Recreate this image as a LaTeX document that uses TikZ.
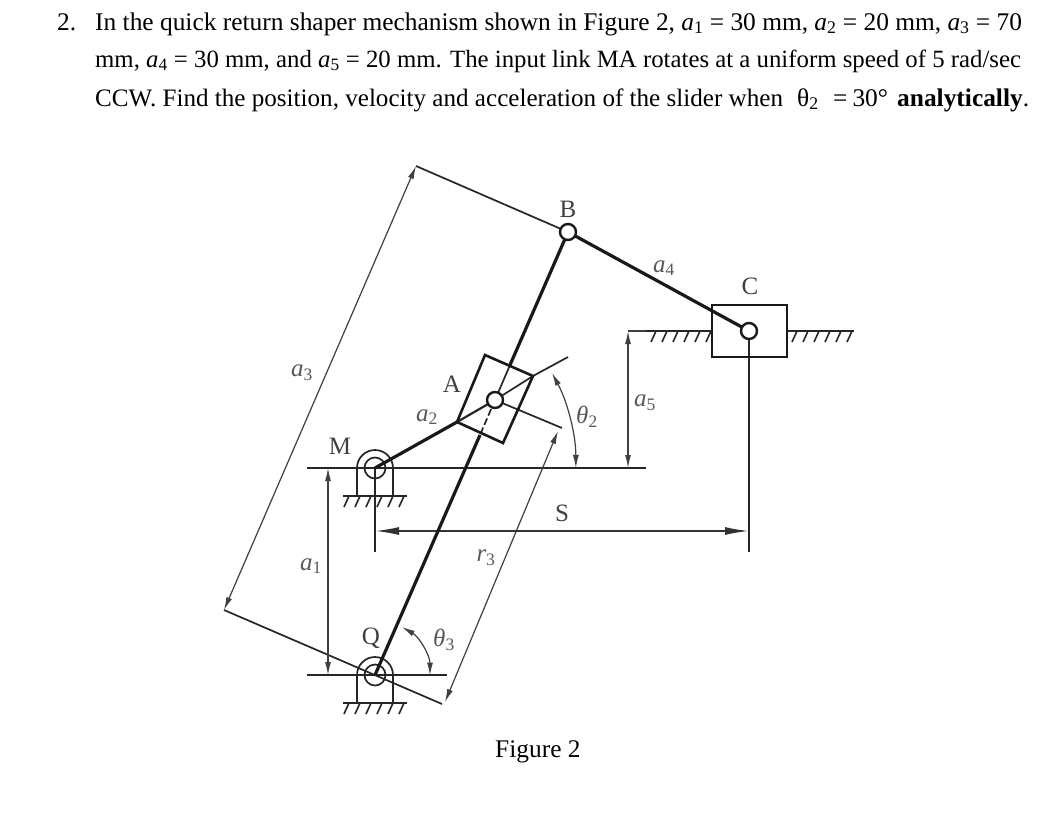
\documentclass[tikz,border=0pt]{standalone}
\usepackage{fontspec}
\setmainfont{Liberation Serif}
\usetikzlibrary{arrows.meta,calc}
\tikzset{
  thinl/.style={line width=1.2pt,draw=black!75},
  medl/.style={line width=1.7pt,draw=black!85},
  linkl/.style={line width=3.2pt,draw=black!90},
  boxl/.style={line width=2.6pt,draw=black!90},
  hatchl/.style={line width=1.6pt,draw=black!85},
  dima/.style={line width=1.2pt,draw=black!75,{Latex[length=13pt,width=6pt]}-{Latex[length=13pt,width=6pt]}},
  joint/.style={circle,draw=black!90,line width=2.4pt,fill=white,minimum size=16pt,inner sep=0pt},
  para/.style={anchor=base west,inner sep=0pt,font=\fontsize{25.4}{28}\selectfont},
  lab/.style={inner sep=0pt,font=\fontsize{25}{28}\selectfont,text=black!75},
  ilab/.style={inner sep=0pt,font=\fontsize{25}{28}\selectfont\itshape,text=black!65}
}
\newcommand{\isub}[1]{\textsubscript{\upshape #1}}
\newcommand{\pivot}[1]{%
  \draw[medl] ($(#1)+(-18,28)$) -- ($(#1)+(-18,0)$) arc[start angle=180,end angle=360,radius=18] -- ($(#1)+(18,28)$);
  \draw[medl] (#1) circle[radius=10.5];
  \draw[hatchl] ($(#1)+(-32,28)$) -- ($(#1)+(32,28)$);
  \foreach \hx in {-26,-15,...,30}{\draw[hatchl] ($(#1)+(\hx,28)$) -- ++(-5,11);}
}
\begin{document}
\begin{tikzpicture}[x=1pt,y=-1pt]
\useasboundingbox (0,0) rectangle (1048,814);
\fill[white] (0,0) rectangle (1048,814);
\node[para] (n) at (57,30) {2.};
\node[para] (l1) at (95,30) {In the quick return shaper mechanism shown in Figure 2, \textit{a}\textsubscript{1} = 30 mm, \textit{a}\textsubscript{2} = 20 mm, \textit{a}\textsubscript{3} = 70};
\node[para,font=\fontsize{24.8}{28}\selectfont] (l2) at (95,67) {mm, \textit{a}\textsubscript{4} = 30 mm, and \textit{a}\textsubscript{5} = 20 mm. The input link MA rotates at a uniform speed of 5 rad/sec};
\node[para,font=\fontsize{25.1}{28}\selectfont] (l3a) at (95,106) {CCW. Find the position, velocity and acceleration of the slider when};
\node[para] (l3b) at (797,106) {θ\textsubscript{2}};
\node[para] (l3c) at (833,106) {=\kern5pt 30°};
\node[para] (l3d) at (897,106) {\textbf{analytically}.};
\node[para] (fig) at (495,757) {Figure 2};
\coordinate (Q) at (375,675);
\coordinate (M) at (375,468);
\coordinate (B) at (568,232);
\coordinate (C) at (749,331);
\coordinate (A) at (495,400);
\coordinate (s1) at (485,355);
\coordinate (s2) at (533,376);
\coordinate (s3) at (503,443);
\coordinate (s4) at (457,422);
\coordinate (qbt) at (510,365);
\coordinate (qbb) at (480,435);
\coordinate (ma) at (568,357);
\coordinate (Ml) at (307,468);
\coordinate (Mr) at (646,468);
\coordinate (Ql) at (307,675);
\coordinate (Qr) at (447,675);
\coordinate (a3t) at (416,166);
\coordinate (a3b) at (224,610);
\coordinate (r3t) at (562,428);
\coordinate (r3b) at (442,704);
\coordinate (r3a) at (558,431);
\coordinate (r3c) at (445,702);
\coordinate (a5t) at (628,331);
\coordinate (a5b) at (628,468);
\coordinate (Sl) at (375,531);
\coordinate (Sr) at (749,531);
\coordinate (Cb) at (749,552);
\coordinate (Mb) at (375,552);
\coordinate (a1t) at (328,468);
\coordinate (a1b) at (328,675);
% extension lines
\draw[medl] (Ml) -- (Mr);
\draw[medl] (Ql) -- (Qr);
\draw[medl] (a3t) -- (B);
\draw[medl] (a3b) -- (r3b);
\draw[medl] (A) -- (r3t);
\draw[medl] (s2) -- (ma);
\draw[medl] (M) -- (Mb);
\draw[medl] (C) -- (Cb);
% dimensions
\draw[dima] (a3t) -- (a3b);
\draw[dima] (r3a) -- (r3c);
\draw[dima] (a1t) -- (a1b);
\draw[dima] (a5t) -- (a5b);
\draw[line width=1.7pt,draw=black!80,{Latex[length=24pt,width=8pt]}-{Latex[length=24pt,width=8pt]}] (Sl) -- (Sr);
\draw[thinl] (a5t) -- (646,331);
% angle arcs
\draw[dima] (552,373) arc[start angle=-28.2,end angle=0,radius=201];
\draw[dima] (402,627) arc[start angle=-60,end angle=0,radius=56];
% pivots
\pivot{M}
\pivot{Q}
% links
\draw[linkl] (Q) -- (qbb);
\draw[linkl] (qbt) -- (B);
\draw[medl] (qbt) -- (A);
\draw[medl,dash pattern=on 7pt off 3pt] (A) -- (qbb);
\draw[linkl] (M) -- (s4);
\draw[line width=2.2pt,draw=black!85] (s4) -- (A);
\draw[medl] (A) -- (s2);
\draw[linkl] (B) -- (C);
% slider A
\draw[boxl] (s1) -- (s2) -- (s3) -- (s4) -- cycle;
% slider C
\draw[boxl] (712,305) rectangle (787,357);
\draw[hatchl] (646,331) -- (712,331);
\draw[hatchl] (787,331) -- (854,331);
\foreach \hx in {656,667,...,712}{\draw[hatchl] (\hx,331) -- ++(-5,11);}
\foreach \hx in {797,808,...,856}{\draw[hatchl] (\hx,331) -- ++(-5,11);}
% joints
\node[joint] (jA) at (A) {};
\node[joint] (jB) at (B) {};
\node[joint] (jC) at (C) {};
% labels
\node[lab] (lM) at (340,446) {M};
\node[lab] (lQ) at (371,638) {Q};
\node[lab] (lA) at (452,384) {A};
\node[lab] (lB) at (568,209) {B};
\node[lab] (lC) at (750,286) {C};
\node[lab] (lS) at (562,513) {S};
\node[ilab] (la1) at (311,566) {a\isub{1}};
\node[ilab] (la2) at (427,417) {a\isub{2}};
\node[ilab] (la3) at (302,373) {a\isub{3}};
\node[ilab] (la4) at (664,268) {a\isub{4}};
\node[ilab] (la5) at (645,403) {a\isub{5}};
\node[ilab] (lr3) at (486,558) {r\isub{3}};
\node[ilab] (lt2) at (587,417) {θ\isub{2}};
\node[ilab] (lt3) at (444,640) {θ\isub{3}};
\end{tikzpicture}
\end{document}
